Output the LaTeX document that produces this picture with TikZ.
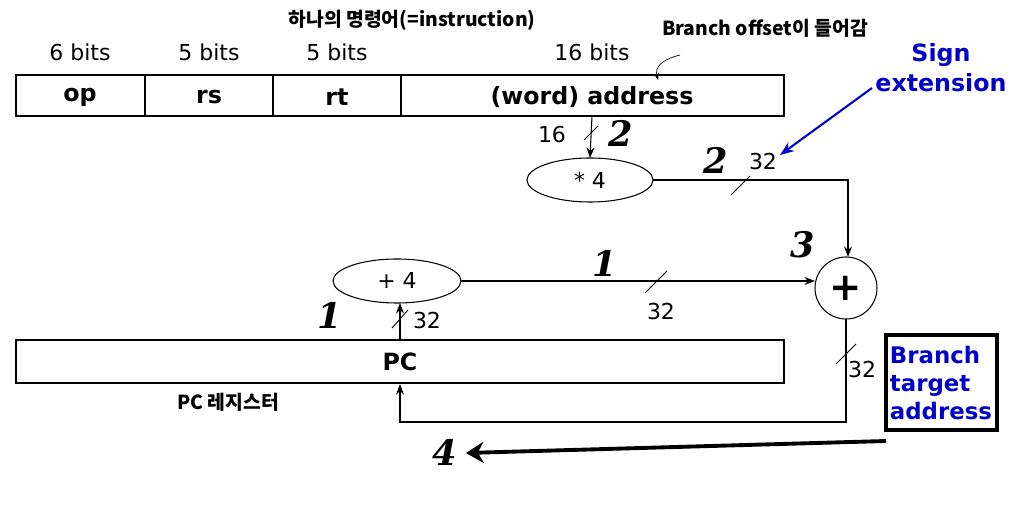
\documentclass[tikz,border=0pt]{standalone}
\usepackage{fontspec}
\setmainfont{DejaVu Sans}
\newfontfamily\kr{Noto Sans CJK KR}
\newfontfamily\hand{DejaVu Serif}
\usetikzlibrary{arrows.meta}
\begin{document}
\begin{tikzpicture}[x=0.02cm,y=-0.02cm,
  lbl/.style={font=\fontsize{12.5pt}{14pt}\selectfont},
  fld/.style={font=\bfseries\fontsize{13.5pt}{15pt}\selectfont},
  hnd/.style={font=\hand\bfseries\itshape\fontsize{20pt}{22pt}\selectfont},
  wire/.style={line width=0.6pt},
  arr/.style={wire,-{Stealth[length=6pt]}},
  sl/.style={line width=0.5pt}]
\useasboundingbox (0,0) rectangle (1022,509);
% instruction
\draw[wire] (16,75) rectangle (784,116);
\foreach \x in {145,273,401} \draw[wire] (\x,75)--(\x,116);
\node[fld] (op) at (80,97) {op};
\node[fld] (rs) at (209,97) {rs};
\node[fld] (rt) at (337,97) {rt};
\node[fld] (addr) at (592,97) {(word) address};
\coordinate (addrb) at (592,116);
\node[lbl] at (80,52) {6 bits};
\node[lbl] at (209,52) {5 bits};
\node[lbl] at (337,52) {5 bits};
\node[lbl] at (592,52) {16 bits};
\node[font=\kr\bfseries\fontsize{11pt}{13pt}\selectfont] at (412,20) {하나의 명령어(=instruction)};
\node[font=\kr\bfseries\fontsize{11pt}{13pt}\selectfont] at (765,28) {Branch offset이 들어감};
\draw[line width=0.4pt,-{Stealth[length=4pt]}] (680,55) .. controls (660,60) and (655,68) .. (658,80);
\node[font=\bfseries\fontsize{13.5pt}{17pt}\selectfont,text=blue!80!black,align=center] (se) at (941,68) {Sign\\extension};
\draw[line width=1.2pt,blue!80!black,-{Stealth[length=8pt]}] (872,88) -- (780,155);
% *4
\draw[wire] (590,180) ellipse (63 and 22);
\node[lbl] (m4) at (590,180) {* 4};
\coordinate (m4t) at (590,158);
\coordinate (m4r) at (653,180);
\draw[arr] (addrb) -- (m4t);
\draw[sl] (584,140)--(598,126);
\node[lbl] at (552,135) {16};
\node[hnd] at (621,133) {2};
% circle
\draw[wire] (846,288) circle (31);
\node[font=\bfseries\fontsize{22pt}{22pt}\selectfont] (add) at (846,288) {+};
\draw[arr] (m4r) -- (848,180) -- (848,257);
\draw[sl] (731,195)--(750,176);
\node[lbl] at (763,162) {32};
\node[hnd] at (716,160) {2};
\node[hnd] at (803,245) {3};
% +4
\draw[wire] (397,281) ellipse (64 and 22);
\node[lbl] (p4) at (397,281) {+ 4};
\draw[arr] (461,281) -- (815,281);
\draw[sl] (645,293)--(667,271);
\node[lbl] at (661,312) {32};
\node[hnd] at (605,263) {1};
% PC
\draw[wire] (16,340) rectangle (784,383);
\node[fld] (pc) at (400,362) {PC};
\draw[arr] (400,340) -- (400,303);
\draw[sl] (392,328)--(408,310);
\node[lbl] at (427,321) {32};
\node[hnd] at (330,315) {1};
\node[font=\kr\bfseries\fontsize{11pt}{13pt}\selectfont] at (228,402) {PC 레지스터};
\draw[arr] (846,319) -- (846,422) -- (400,422) -- (400,384);
\draw[sl] (836,364)--(856,344);
\node[lbl] at (862,370) {32};
\draw[line width=2.5pt] (886,335) rectangle (997,430);
\node[align=left,font=\bfseries\fontsize{13pt}{16pt}\selectfont,text=blue!80!black,inner sep=0pt] (bt) at (941,383) {Branch\\target\\address};
\draw[line width=2.2pt,-{Stealth[length=10pt,width=12pt]}] (886,441) -- (466,453);
\node[hnd] at (445,452) {4};
\end{tikzpicture}
\end{document}
